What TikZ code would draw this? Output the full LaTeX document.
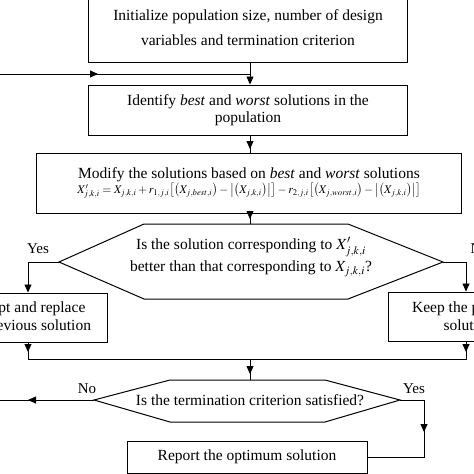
\documentclass[tikz,border=0pt]{standalone}
\usepackage{mathptmx}
\usepackage[no-math]{fontspec}
\setmainfont{Liberation Serif}
\usetikzlibrary{arrows.meta}
\begin{document}
\begin{tikzpicture}[x=1pt,y=-1pt,
  box/.style={draw, line width=1pt, fill=white, inner sep=0pt},
  conn/.style={line width=0.8pt},
  arr/.style={conn,-{Triangle[length=8pt,width=7pt]}},
  txt/.style={font=\fontsize{15.5}{18}\selectfont, align=center},
  lab/.style={font=\fontsize{15}{17}\selectfont}]
\clip (0,0) rectangle (474,474);
\fill[white] (0,0) rectangle (474,474);
% boxes
\node[box, txt, minimum width=319pt, minimum height=68pt] (b1) at (248,28)
  {Initialize population size, number of design\\[7pt] variables and termination criterion};
\node[box, txt, minimum width=319pt, minimum height=50pt] (b2) at (248,110)
  {Identify \textit{best} and \textit{worst} solutions in the\\[-1pt] population};
\node[box, txt, minimum width=425pt, minimum height=60pt] (b3) at (249,183)
  {Modify the solutions based on \textit{best} and \textit{worst} solutions\\[-3pt]
   {\fontsize{11.7}{13}\selectfont $X'_{j,k,i}=X_{j,k,i}+r_{1,j,i}\bigl[\bigl(X_{j,best,i}\bigr)-\bigl|\bigl(X_{j,k,i}\bigr)\bigr|\bigr]-r_{2,j,i}\bigl[\bigl(X_{j,worst,i}\bigr)-\bigl|\bigl(X_{j,k,i}\bigr)\bigr|\bigr]$}};
% hexagon 1
\coordinate (h1n) at (250,224);
\coordinate (h1w) at (59,262);
\coordinate (h1e) at (443,262);
\draw[line width=1pt] (144,224) -- (348,224) -- (h1e) -- (348,299) -- (144,299) -- (h1w) -- cycle;
\node[txt] (h1) at (251,257)
  {Is the solution corresponding to $X'_{j,k,i}$\\[4pt] better than that corresponding to $X_{j,k,i}$?};
% side boxes
\node[box, minimum width=158pt, minimum height=49pt] (lb) at (28,317.5) {};
\node[txt] (lbt) at (26,317.5) {Accept and replace\\ the previous solution};
\node[box, minimum width=156pt, minimum height=49pt] (rb) at (466,316.5) {};
\node[txt] (rbt) at (468.5,316.5) {Keep the previous\\ solution};
% hexagon 2
\coordinate (h2n) at (250,380);
\coordinate (h2w) at (94,400);
\coordinate (h2e) at (400,400);
\draw[line width=1pt] (170,380) -- (325,380) -- (h2e) -- (325,422) -- (170,422) -- (h2w) -- cycle;
\node[txt] (h2) at (250,400) {Is the termination criterion satisfied?};
% report
\node[box, txt, minimum width=240pt, minimum height=32pt] (rep) at (247,457)
  {Report the optimum solution};
% labels
\node[lab] (y1) at (38,249) {Yes};
\node[lab, anchor=west] (n1) at (467,249) {No};
\node[lab] (n2) at (87,389) {No};
\node[lab] (y2) at (414,389) {Yes};
% coordinates
\coordinate (fbL) at (-20,400);
\coordinate (fbT) at (-20,74);
\coordinate (fbJ) at (250,74);
\coordinate (jL) at (28,359);
\coordinate (jR) at (466,359);
\coordinate (jM) at (250,359);
\coordinate (ycorner) at (424,400);
\coordinate (ybot) at (424,457);
% connectors
\draw[arr] (b1.south -| 250,0) -- (b2.north -| 250,0);
\draw[conn] (b2.south -| 250,0) -- (b3.north -| 250,0);
\draw[arr] (b2.south -| 250,0) -- (250,149);
\draw[conn] (b3.south -| 250,0) -- (h1n);
\draw[arr] (b3.south -| 250,0) -- (250,219);
\draw[arr] (h1w) -| (lb.north);
\draw[arr] (h1e) -| (rb.north);
\draw[conn] (lb.south) -- (jL) -- (jR) -- (rb.south);
\draw[arr] (lb.south) -- (28,352);
\draw[arr] (rb.south) -- (466,352);
\draw[conn] (jM) -- (h2n);
\draw[arr] (jM) -- (250,374);
\draw[conn] (h2w) -- (fbL) -- (fbT) -- (fbJ);
\draw[arr] (h2w) -- (28,400);
\draw[arr] (fbT) -- (98,74);
\draw[conn] (h2e) -- (ycorner) -- (ybot) -- (rep.east);
\draw[arr] (ycorner) -- (424,432);
\end{tikzpicture}
\end{document}
